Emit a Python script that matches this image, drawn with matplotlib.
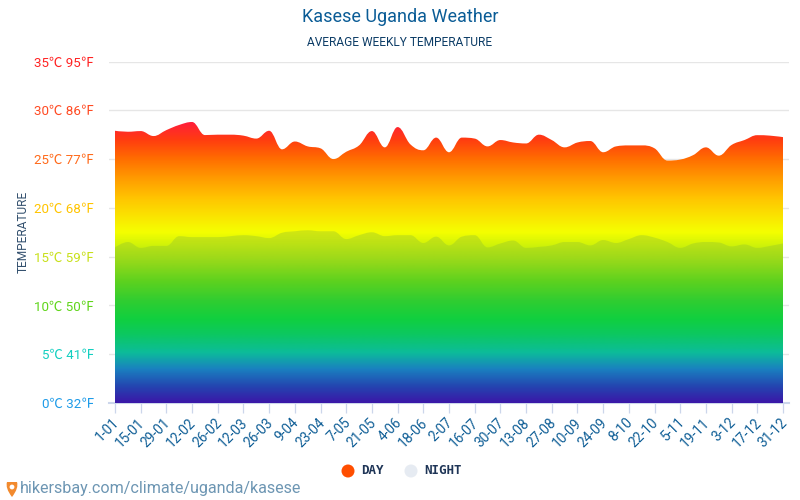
import numpy as np
import matplotlib
matplotlib.use('Agg')
import matplotlib.pyplot as plt
from matplotlib.colors import LinearSegmentedColormap
from matplotlib.patches import PathPatch, Circle
from matplotlib.path import Path
from matplotlib.transforms import ScaledTranslation

plt.rcParams['font.family'] = ['Roboto', 'Noto Sans CJK SC', 'DejaVu Sans']

title = 'Kasese Uganda Weather'
subtitle = 'AVERAGE WEEKLY TEMPERATURE'
y_title = 'TEMPERATURE'
source = 'hikersbay.com/climate/uganda/kasese'

week_labels = ['1-01', '15-01', '29-01', '12-02', '26-02', '12-03', '26-03', '9-04', '23-04',
               '7-05', '21-05', '4-06', '18-06', '2-07', '16-07', '30-07', '13-08', '27-08',
               '10-09', '24-09', '8-10', '22-10', '5-11', '19-11', '3-12', '17-12', '31-12']
temp_ticks = [0, 5, 10, 15, 20, 25, 30, 35]
temp_f = [32, 41, 50, 59, 68, 77, 86, 95]
temp_colors = ['#1e9be8', '#12cfc0', '#5fd51a', '#c8e01a', '#ffc400', '#ff6a1a', '#ff4a22', '#ff2222']

day = [27.9, 27.8, 27.87, 27.36, 27.97, 28.5, 28.8, 27.46, 27.5, 27.5, 27.4, 27.1, 27.9,
       26.0, 26.8, 26.3, 26.1, 25.0, 25.75, 26.4, 27.87, 26.2, 28.28, 26.5, 25.9, 27.2,
       25.7, 27.2, 27.1, 26.3, 26.95, 26.7, 26.6, 27.5, 26.95, 26.2, 26.7, 26.85, 25.7,
       26.3, 26.4, 26.4, 26.1, 24.85, 24.95, 25.4, 26.2, 25.35, 26.45, 26.95, 27.45, 27.4, 27.25]
night = [15.95, 16.5, 15.9, 16.1, 16.1, 17.1, 17.0, 17.0, 17.0, 17.1, 17.2, 17.1, 16.9,
         17.45, 17.6, 17.7, 17.6, 17.6, 16.8, 17.2, 17.5, 17.1, 17.2, 17.2, 16.4, 17.05,
         16.15, 17.05, 17.2, 15.95, 16.35, 16.65, 15.9, 16.0, 16.15, 16.5, 16.5, 16.15, 16.7,
         16.4, 16.8, 17.2, 16.95, 16.5, 15.9, 16.35, 16.5, 16.45, 16.05, 16.25, 15.9, 16.1, 16.35]

# colour stops of the area, temperature -> colour
grad_temps = [0, 1.6, 3.4, 5.1, 7, 8.5, 10.5, 12.5, 15, 17.5, 20.8, 23, 25, 27, 29]
grad_colors = ['#3a18a8', '#2444b0', '#1a80c0', '#0cbc9a', '#0cc860', '#10cf40', '#30d030', '#60d81a',
               '#b0e810', '#f5ff00', '#ffc800', '#ff9c00', '#ff6e00', '#ff3c10', '#ff1a40']


def spline_path(xs, ys, base=0.0):
    # same kind of smoothing as a highcharts spline area
    verts = [(xs[0], base), (xs[0], ys[0])]
    codes = [Path.MOVETO, Path.LINETO]
    right = None
    n = len(xs)
    for i in range(1, n):
        if i < n - 1:
            lx = (1.5 * xs[i] + xs[i - 1]) / 2.5
            ly = (1.5 * ys[i] + ys[i - 1]) / 2.5
            rx = (1.5 * xs[i] + xs[i + 1]) / 2.5
            ry = (1.5 * ys[i] + ys[i + 1]) / 2.5
            corr = (ry - ly) * (rx - xs[i]) / (rx - lx) + ys[i] - ry
            ly += corr
            ry += corr
            if (ly > ys[i] and ly > ys[i - 1]) or (ly < ys[i] and ly < ys[i - 1]):
                ly = max(ys[i], ys[i - 1]) if ly > ys[i] else min(ys[i], ys[i - 1])
                ry = 2 * ys[i] - ly
            if (ry > ys[i] and ry > ys[i + 1]) or (ry < ys[i] and ry < ys[i + 1]):
                ry = max(ys[i], ys[i + 1]) if ry > ys[i] else min(ys[i], ys[i + 1])
                ly = 2 * ys[i] - ry
        else:
            lx, ly, rx, ry = xs[i], ys[i], xs[i], ys[i]
        c1 = right if right is not None else (xs[i - 1], ys[i - 1])
        verts += [c1, (lx, ly), (xs[i], ys[i])]
        codes += [Path.CURVE4, Path.CURVE4, Path.CURVE4]
        right = (rx, ry)
    verts += [(xs[-1], base), (xs[0], base)]
    codes += [Path.LINETO, Path.LINETO]
    return Path(verts, codes)


fig = plt.figure(figsize=(8, 5), dpi=100)
ax = fig.add_axes([109 / 800, 97 / 500, 680 / 800, 341.5 / 500])
step = 668 / 52
ax.set_xlim(-6 / step, 52 + 6 / step)
ax.set_ylim(0, 35)
ax.set_facecolor('white')
for s in ax.spines.values():
    s.set_visible(False)

weeks = np.arange(len(day))
ax.set_yticks(temp_ticks)
ax.set_yticklabels([f'{c}℃ {f}℉' for c, f in zip(temp_ticks, temp_f)], fontsize=9.6)
for lab, col in zip(ax.get_yticklabels(), temp_colors):
    lab.set_color(col)
ax.tick_params(axis='y', length=0, pad=10.5)
ax.grid(axis='y', color='#e6e6e6', lw=1)
ax.set_axisbelow(True)

ax.set_xticks(weeks[::2])
ax.set_xticklabels(week_labels, rotation=45, ha='right', va='top', rotation_mode='anchor',
                   fontsize=9.9, color='#0f5e96')
ax.tick_params(axis='x', length=7.5, width=0.9, color='#ccd6eb', pad=1.5)
shift = ScaledTranslation(-3 / 100, 0, fig.dpi_scale_trans)
for lab in ax.get_xticklabels():
    lab.set_transform(lab.get_transform() + shift)
ax.axhline(0, color='#ccd6eb', lw=1.5, clip_on=False, zorder=1)

# gradient area, clipped by the day curve
levels = np.linspace(0, 35, 700)
pos = [t / 35 for t in grad_temps] + [1.0]
cmap = LinearSegmentedColormap.from_list('temp', list(zip(pos, grad_colors + [grad_colors[-1]])))
img = ax.imshow(levels[:, None], extent=(0, 52, 0, 35), origin='lower', aspect='auto',
                cmap=cmap, vmin=0, vmax=35, zorder=2, interpolation='bilinear')
day_patch = PathPatch(spline_path(weeks, day), transform=ax.transData, fc='none', ec='none')
ax.add_patch(day_patch)
img.set_clip_path(day_patch)

# night is a thin veil that fades out towards the bottom
veil = np.zeros((700, 1, 4))
veil[:, 0, :3] = (0.35, 0.6, 0.3)
veil[:, 0, 3] = np.clip((levels - 9) / 9, 0, 1) * 0.25
img2 = ax.imshow(veil, extent=(0, 52, 0, 35), origin='lower', aspect='auto', zorder=3,
                 interpolation='bilinear')
night_patch = PathPatch(spline_path(weeks, night), transform=ax.transData, fc='none', ec='none')
ax.add_patch(night_patch)
img2.set_clip_path(night_patch)
ax.set_xlim(-6 / step, 52 + 6 / step)
ax.set_ylim(0, 35)

fig.text(400 / 800, 1 - 17 / 500, title, ha='center', va='center', fontsize=13, color='#0a5c96')
fig.text(400 / 800, 1 - 42 / 500, subtitle, ha='center', va='center', fontsize=8.6, color='#0c3c66')
fig.text(23 / 800, 1 - 232 / 500, y_title, ha='center', va='center', rotation=90, fontsize=8.6, color='#33506e')

# everything below in pixel coordinates of the figure
px = fig.add_axes([0, 0, 1, 1], facecolor='none')
px.set_xlim(0, 800)
px.set_ylim(500, 0)
px.axis('off')
px.add_patch(Circle((348, 471), 6.5, fc='#ff4e00', ec='none'))
px.add_patch(Circle((411, 471), 6.5, fc='#e6ebf2', ec='none'))
px.text(361, 471, 'DAY', va='center', family='DejaVu Sans Mono', weight='bold', fontsize=9, color='#1f3557')
px.text(424, 471, 'NIGHT', va='center', family='DejaVu Sans Mono', weight='bold', fontsize=9, color='#1f3557')
px.text(20, 489, source, va='center', fontsize=11.6, color='#6d96b3')
# map pin
px.add_patch(PathPatch(Path([(12, 497), (5, 488), (7, 482), (12, 482), (17, 482), (19, 488), (12, 497)],
                            [Path.MOVETO, Path.CURVE3, Path.CURVE3, Path.CURVE3, Path.CURVE3, Path.CURVE3, Path.CURVE3]),
                       fc='#f28a2e', ec='none'))
px.add_patch(Circle((12, 487), 2.4, fc='white', ec='none'))

fig.savefig('out.png', dpi=100)
